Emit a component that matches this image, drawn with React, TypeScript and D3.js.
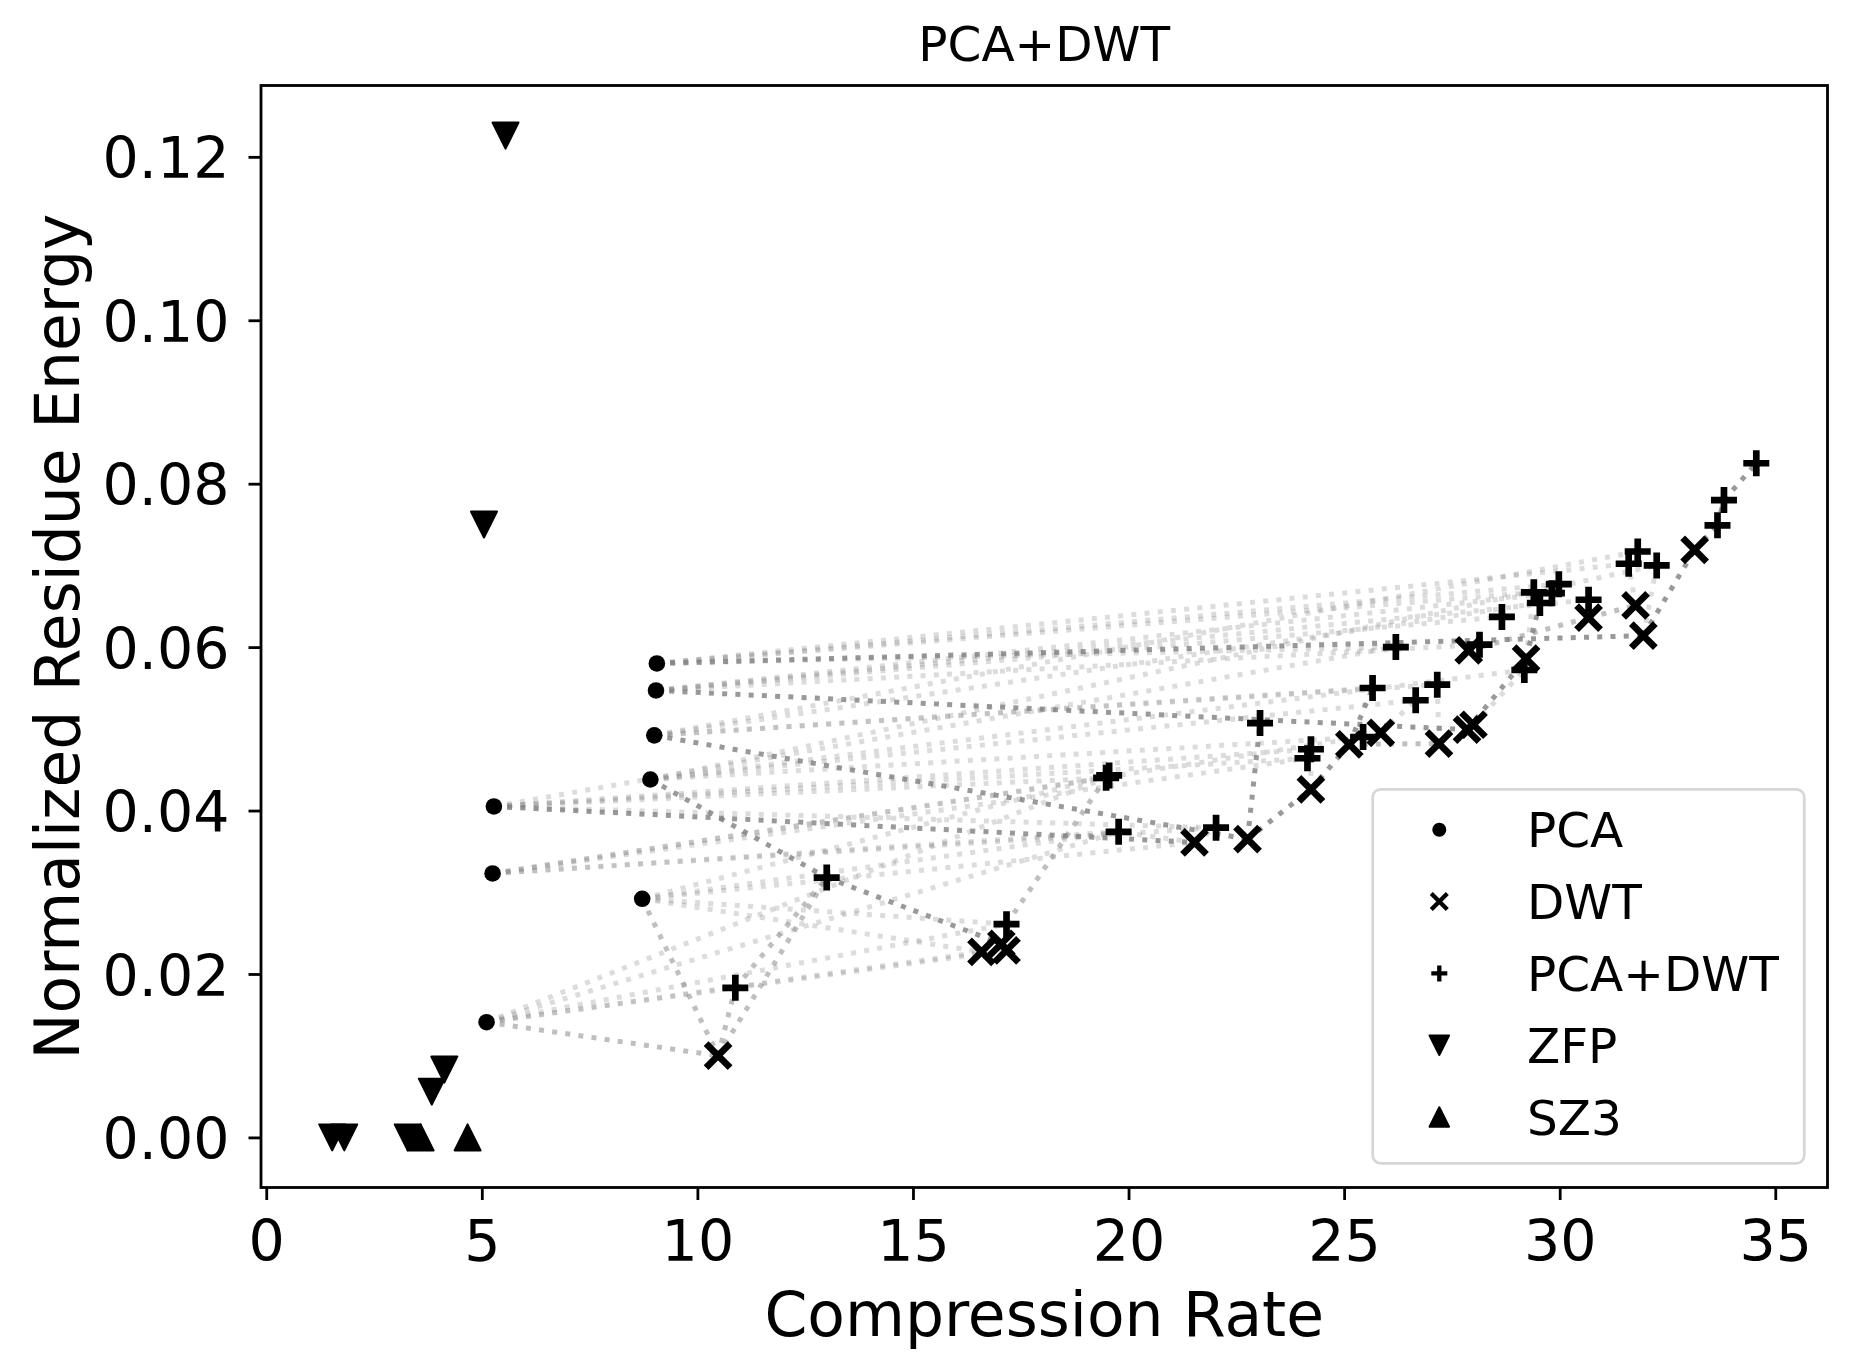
import { useEffect, useRef } from "react"
import * as d3 from "d3"

const WIDTH = 1863
const HEIGHT = 1358
const MARGIN = { top: 85.5, right: 35.5, bottom: 170.5, left: 261 }
const FONT = "'DejaVu Sans', 'Liberation Sans', sans-serif"

// ── series (compression rate / normalized residue energy) ─────────────────
const pcaRate = [9.06, 9.04, 9.0, 8.91, 5.28, 5.25, 8.72, 5.11]
const pcaResidue = [0.058, 0.0547, 0.0492, 0.0438, 0.0405, 0.0323, 0.0292, 0.0141]

const dwtRate = [10.48, 16.59, 17.05, 17.17, 21.53, 22.76, 24.23, 25.12, 25.85, 27.2, 27.85, 28.0, 27.89, 29.22, 30.67, 31.76, 31.94, 33.13]
const dwtResidue = [0.01, 0.0227, 0.0237, 0.0229, 0.0361, 0.0365, 0.0426, 0.0481, 0.0495, 0.0482, 0.0499, 0.0505, 0.0596, 0.0586, 0.0636, 0.0651, 0.0614, 0.0719]

const comboRate = [10.88, 13.0, 17.17, 19.48, 19.55, 19.77, 22.03, 23.05, 24.15, 24.23, 25.44, 25.66, 26.2, 26.66, 27.16, 28.14, 28.66, 29.18, 29.4, 29.54, 29.82, 29.98, 30.67, 31.6, 31.81, 32.25, 33.66, 33.81, 34.56]
const comboResidue = [0.0183, 0.0318, 0.0261, 0.044, 0.0443, 0.0374, 0.0379, 0.0507, 0.0464, 0.0475, 0.049, 0.055, 0.06, 0.0535, 0.0554, 0.0603, 0.0637, 0.0572, 0.0667, 0.0654, 0.0666, 0.0677, 0.0658, 0.0702, 0.0717, 0.07, 0.0749, 0.078, 0.0825]

const zfpRate = [1.53, 1.81, 3.28, 3.84, 4.13, 5.05, 5.55]
const zfpResidue = [0.0, 0.0, 0.0, 0.0056, 0.0083, 0.075, 0.1226]

const sz3Rate = [3.58, 4.67]
const sz3Residue = [0.0, 0.0]

// ── dotted links between configurations (P = PCA, D = DWT, C = PCA+DWT) ──
const strongLinks: [string, string][] = [
  ["P0", "D16"], ["P1", "D10"], ["P2", "D5"], ["P3", "C1"], ["C1", "D2"], ["P4", "D4"],
  ["D5", "C7"], ["D5", "D6"], ["D6", "D7"], ["D7", "C11"], ["D10", "D13"], ["D13", "C19"],
  ["D16", "D17"], ["D17", "C26"], ["C26", "C27"], ["C27", "C28"],
]
const mediumLinks: [string, string][] = [
  ["P6", "D0"], ["P7", "D0"], ["D0", "C0"], ["D0", "C1"], ["C0", "C1"], ["D3", "C2"], ["C2", "C3"],
  ["D7", "D9"], ["D12", "D14"], ["D14", "D15"],
]
const faintLinks: [string, string][] = [
  ["P0", "C23"], ["P0", "C21"], ["P0", "C18"], ["P0", "C12"],
  ["P1", "C20"], ["P1", "C16"], ["P1", "C15"], ["P1", "C22"],
  ["P2", "C14"], ["P2", "C19"], ["P2", "C11"], ["P2", "C24"],
  ["P3", "C13"], ["P3", "C17"], ["P3", "C10"], ["P3", "C25"],
  ["P4", "C9"], ["P4", "C3"], ["P4", "C8"], ["P4", "C6"], ["P4", "C12"],
  ["P5", "C5"], ["P5", "C6"], ["P5", "C8"], ["P5", "C3"], ["P5", "C10"],
  ["P6", "C2"], ["P6", "C5"], ["P6", "D1"], ["P6", "C4"], ["P6", "D4"],
  ["P7", "C2"], ["P7", "C3"], ["P7", "D1"], ["P7", "C5"], ["P7", "D3"],
  ["D4", "C6"], ["D4", "C5"], ["D6", "C9"], ["D7", "C10"], ["D8", "C13"], ["D9", "C14"],
  ["D11", "C17"], ["D12", "C15"], ["D14", "C22"], ["D15", "C23"], ["D16", "C25"], ["D13", "C18"],
]

const xTicks = [0, 5, 10, 15, 20, 25, 30, 35]
const yTicks = [0, 0.02, 0.04, 0.06, 0.08, 0.1, 0.12]
const legendLabels = ["PCA", "DWT", "PCA+DWT", "ZFP", "SZ3"]

// ── marker shapes (size = marker width in px) ─────────────────────────────
const triangleDown: d3.SymbolType = {
  draw(ctx, size) {
    const h = size / 2
    ctx.moveTo(0, h); ctx.lineTo(-h, -h); ctx.lineTo(h, -h); ctx.closePath()
  },
}
const triangleUp: d3.SymbolType = {
  draw(ctx, size) {
    const h = size / 2
    ctx.moveTo(0, -h); ctx.lineTo(-h, h); ctx.lineTo(h, h); ctx.closePath()
  },
}
const plus: d3.SymbolType = {
  draw(ctx, size) {
    const h = size / 2
    ctx.moveTo(-h, 0); ctx.lineTo(h, 0); ctx.moveTo(0, -h); ctx.lineTo(0, h)
  },
}
const cross: d3.SymbolType = {
  draw(ctx, size) {
    const h = size / 2
    ctx.moveTo(-h, -h); ctx.lineTo(h, h); ctx.moveTo(-h, h); ctx.lineTo(h, -h)
  },
}
const dot: d3.SymbolType = {
  draw(ctx, size) {
    const r = size / 2
    ctx.moveTo(r, 0); ctx.arc(0, 0, r, 0, Math.PI * 2)
  },
}

type MarkerStyle = { type: d3.SymbolType; size: number; legendSize: number; stroke: number; legendStroke: number; filled: boolean }
const MARKERS: MarkerStyle[] = [
  { type: dot, size: 16.6, legendSize: 14, stroke: 0, legendStroke: 0, filled: true },
  { type: cross, size: 24, legendSize: 16, stroke: 6.7, legendStroke: 4.3, filled: false },
  { type: plus, size: 26, legendSize: 16, stroke: 6.7, legendStroke: 4.3, filled: false },
  { type: triangleDown, size: 26, legendSize: 19.5, stroke: 2, legendStroke: 2, filled: true },
  { type: triangleUp, size: 26, legendSize: 19.5, stroke: 2, legendStroke: 2, filled: true },
]

export default function App() {
  const svgRef = useRef<SVGSVGElement>(null)

  useEffect(() => {
    const svgEl = svgRef.current
    if (!svgEl) return
    const svg = d3.select(svgEl)
    svg.selectAll("*").remove()

    const series: [number[], number[]][] = [
      [pcaRate, pcaResidue],
      [dwtRate, dwtResidue],
      [comboRate, comboResidue],
      [zfpRate, zfpResidue],
      [sz3Rate, sz3Residue],
    ]
    const allX = series.flatMap((s) => s[0])
    const allY = series.flatMap((s) => s[1])
    const [xMin, xMax] = d3.extent(allX) as [number, number]
    const [yMin, yMax] = d3.extent(allY) as [number, number]
    const padX = (xMax - xMin) * 0.05
    const padY = (yMax - yMin) * 0.05

    const x = d3.scaleLinear().domain([xMin - padX, xMax + padX]).range([MARGIN.left, WIDTH - MARGIN.right])
    const y = d3.scaleLinear().domain([yMin - padY, yMax + padY]).range([HEIGHT - MARGIN.bottom, MARGIN.top])

    const lookup = new Map<string, [number, number]>()
    pcaRate.forEach((v, i) => lookup.set(`P${i}`, [v, pcaResidue[i]]))
    dwtRate.forEach((v, i) => lookup.set(`D${i}`, [v, dwtResidue[i]]))
    comboRate.forEach((v, i) => lookup.set(`C${i}`, [v, comboResidue[i]]))

    const line = d3.line<[number, number]>().x((d) => x(d[0])).y((d) => y(d[1]))

    // ── Dotted links ──────────────────────────────────────────────────────
    const drawLinks = (links: [string, string][], opacity: number) => {
      svg.append("g")
        .selectAll("path")
        .data(links)
        .join("path")
        .attr("d", ([a, b]) => line([lookup.get(a)!, lookup.get(b)!]))
        .attr("fill", "none")
        .attr("stroke", "#808080")
        .attr("stroke-opacity", opacity)
        .attr("stroke-width", 5)
        .attr("stroke-dasharray", "5 8.25")
    }
    drawLinks(faintLinks, 0.28)
    drawLinks(mediumLinks, 0.5)
    drawLinks(strongLinks, 0.8)

    // ── Markers ───────────────────────────────────────────────────────────
    series.forEach(([xs, ys], k) => {
      const m = MARKERS[k]
      const pts = xs.map((v, i) => [v, ys[i]] as [number, number])
      svg.append("g")
        .selectAll("path")
        .data(pts)
        .join("path")
        .attr("transform", (d) => `translate(${x(d[0])},${y(d[1])})`)
        .attr("d", d3.symbol(m.type, m.size)())
        .attr("fill", m.filled ? "#000" : "none")
        .attr("stroke", m.stroke > 0 ? "#000" : "none")
        .attr("stroke-width", m.stroke)
        .attr("stroke-linejoin", "round")
    })

    // ── Frame + axes ──────────────────────────────────────────────────────
    const plotBottom = HEIGHT - MARGIN.bottom
    svg.append("rect")
      .attr("x", MARGIN.left).attr("y", MARGIN.top)
      .attr("width", WIDTH - MARGIN.left - MARGIN.right)
      .attr("height", plotBottom - MARGIN.top)
      .attr("fill", "none")
      .attr("stroke", "#000")
      .attr("stroke-width", 2.8)

    svg.append("g")
      .attr("transform", `translate(0,${plotBottom})`)
      .call(d3.axisBottom(x).tickValues(xTicks).tickSize(12.5).tickSizeOuter(0).tickPadding(20.5).tickFormat(d3.format("d")))
      .call((g) => g.select(".domain").remove())
      .call((g) => g.selectAll(".tick line").attr("stroke", "#000").attr("stroke-width", 2.8))
      .call((g) => g.selectAll("text").attr("fill", "#000").attr("font-size", 57).attr("font-family", FONT))

    svg.append("g")
      .attr("transform", `translate(${MARGIN.left},0)`)
      .call(d3.axisLeft(y).tickValues(yTicks).tickSize(12.5).tickSizeOuter(0).tickPadding(19).tickFormat(d3.format(".2f")))
      .call((g) => g.select(".domain").remove())
      .call((g) => g.selectAll(".tick line").attr("stroke", "#000").attr("stroke-width", 2.8))
      .call((g) => g.selectAll("text").attr("fill", "#000").attr("font-size", 57).attr("font-family", FONT).attr("dy", "0.37em"))

    // ── Labels ────────────────────────────────────────────────────────────
    const cx = (MARGIN.left + WIDTH - MARGIN.right) / 2
    const cy = (MARGIN.top + plotBottom) / 2
    svg.append("text")
      .attr("x", cx).attr("y", 60.7)
      .attr("text-anchor", "middle")
      .attr("font-size", 48.5).attr("font-family", FONT)
      .text("PCA+DWT")
    svg.append("text")
      .attr("x", cx).attr("y", 1336)
      .attr("text-anchor", "middle")
      .attr("font-size", 61.5).attr("font-family", FONT)
      .text("Compression Rate")
    svg.append("text")
      .attr("transform", `translate(79,${cy}) rotate(-90)`)
      .attr("text-anchor", "middle")
      .attr("font-size", 61.5).attr("font-family", FONT)
      .text("Normalized Residue Energy")

    // ── Legend ────────────────────────────────────────────────────────────
    const legend = svg.append("g")
    legend.append("rect")
      .attr("x", 1372.7).attr("y", 789.3)
      .attr("width", 431.6).attr("height", 374)
      .attr("rx", 8)
      .attr("fill", "#fff").attr("fill-opacity", 0.8)
      .attr("stroke", "#d6d6d6").attr("stroke-width", 2.7)
    const rowY = (i: number) => 829.8 + i * 71.8
    legendLabels.forEach((label, i) => {
      const m = MARKERS[i]
      legend.append("path")
        .attr("transform", `translate(1439.3,${rowY(i)})`)
        .attr("d", d3.symbol(m.type, m.legendSize)())
        .attr("fill", m.filled ? "#000" : "none")
        .attr("stroke", m.legendStroke > 0 ? "#000" : "none")
        .attr("stroke-width", m.legendStroke)
        .attr("stroke-linejoin", "round")
      legend.append("text")
        .attr("x", 1527).attr("y", rowY(i) + 17.6)
        .attr("font-size", 48.5).attr("font-family", FONT)
        .text(label)
    })
  }, [])

  return (
    <div style={{ position: "absolute", left: 0, top: 0 }}>
      <svg ref={svgRef} width={WIDTH} height={HEIGHT} style={{ display: "block", background: "#fff" }} />
    </div>
  )
}
